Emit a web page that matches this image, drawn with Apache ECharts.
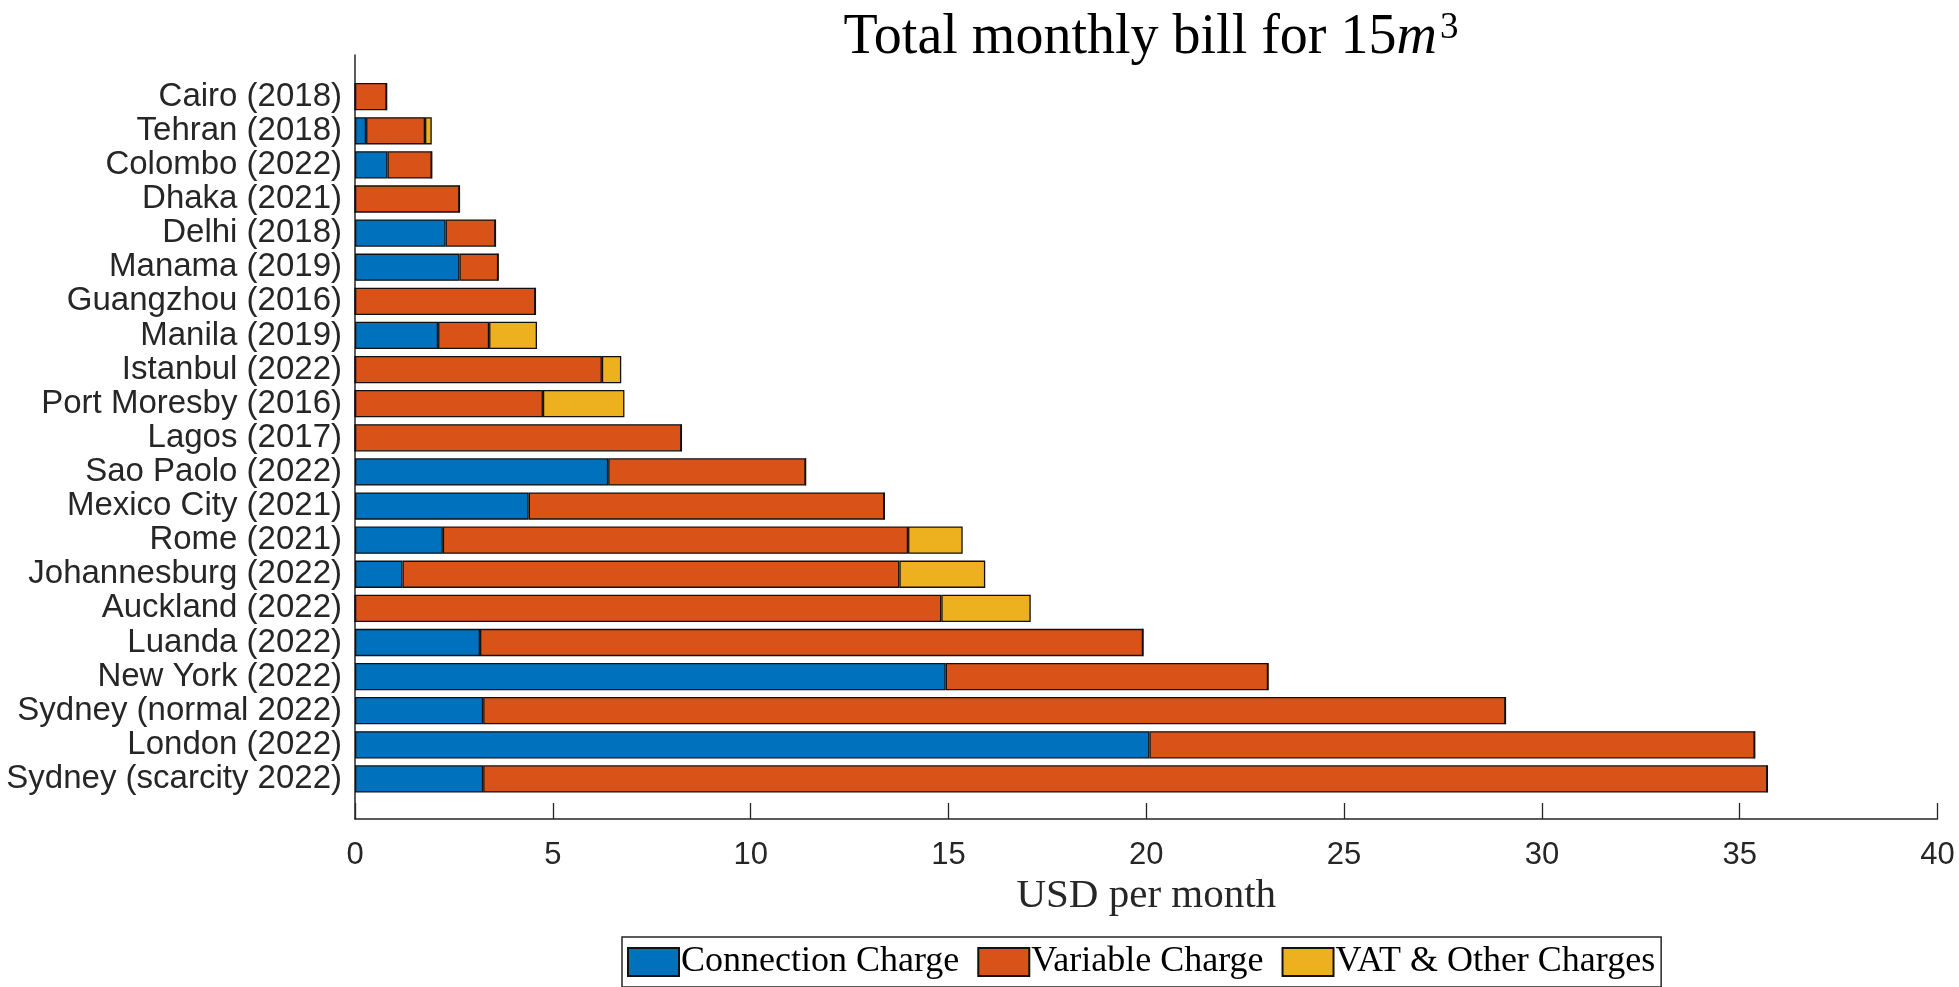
<!DOCTYPE html>
<html>
<head>
<meta charset="utf-8">
<script src="https://cdn.jsdelivr.net/npm/echarts@6/dist/echarts.min.js"></script>
<style>
html,body{margin:0;padding:0;background:#fff;}
#chart{width:1959px;height:987px;}
</style>
</head>
<body>
<div id="chart"></div>
<script>
const cities = ['Cairo (2018)','Tehran (2018)','Colombo (2022)','Dhaka (2021)','Delhi (2018)','Manama (2019)','Guangzhou (2016)','Manila (2019)','Istanbul (2022)','Port Moresby (2016)','Lagos (2017)','Sao Paolo (2022)','Mexico City (2021)','Rome (2021)','Johannesburg (2022)','Auckland (2022)','Luanda (2022)','New York (2022)','Sydney (normal 2022)','London (2022)','Sydney (scarcity 2022)'];
const connectionCharge = [0, 0.28, 0.82, 0, 2.29, 2.64, 0, 2.10, 0, 0, 0, 6.40, 4.39, 2.22, 1.20, 0, 3.16, 14.93, 3.24, 20.08, 3.24];
const variableCharge  = [0.80, 1.49, 1.12, 2.64, 1.26, 0.98, 4.56, 1.29, 6.24, 4.75, 8.25, 4.99, 8.99, 11.76, 12.56, 14.82, 16.76, 8.15, 25.84, 15.30, 32.46];
const vatOther        = [0, 0.17, 0, 0, 0, 0, 0, 1.21, 0.49, 2.06, 0, 0, 0, 1.38, 2.17, 2.26, 0, 0, 0, 0, 0];
const xTicks = [0, 5, 10, 15, 20, 25, 30, 35, 40];
const seriesNames = ['Connection Charge', 'Variable Charge', 'VAT & Other Charges'];
const seriesColors = ['#0072BD', '#D95319', '#EDB120'];

const axisColor = '#262626';
const chart = echarts.init(document.getElementById('chart'));
const barSeries = [connectionCharge, variableCharge, vatOther].map((d, i) => ({
  name: seriesNames[i],
  type: 'bar',
  stack: 'total',
  xAxisIndex: 1,
  yAxisIndex: 1,
  barCategoryGap: '20%',
  itemStyle: { color: seriesColors[i], borderColor: '#111', borderWidth: 1.3 },
  emphasis: { disabled: true },
  data: d
}));

chart.setOption({
  animation: false,
  title: {
    text: '{a|Total monthly bill for 15}{i|m}{s|3}',
    left: 1146,
    textAlign: 'center',
    top: 5,
    textStyle: {
      fontWeight: 'normal',
      rich: {
        a: { fontFamily: 'Liberation Serif', fontSize: 56, fontWeight: 'normal', color: '#000' },
        i: { fontFamily: 'Liberation Serif', fontSize: 56, fontWeight: 'normal', fontStyle: 'italic', color: '#000' },
        s: { fontFamily: 'Liberation Serif', fontSize: 37, fontWeight: 'normal', color: '#000', verticalAlign: 'top', padding: [0, 0, 20, 3] }
      }
    }
  },
  legend: {
    left: 622,
    top: 937,
    orient: 'horizontal',
    padding: [7, 6, 7, 5],
    itemWidth: 51,
    itemHeight: 28,
    itemGap: 18,
    borderColor: axisColor,
    borderWidth: 1.5,
    icon: 'rect',
    selectedMode: false,
    textStyle: { fontFamily: 'Liberation Serif', fontSize: 36, color: '#000', padding: [0, 0, 0, -3] },
    data: seriesNames
  },
  grid: [
    { left: 355, right: 21.5, top: 55, bottom: 168, containLabel: false },
    { left: 355, right: 21.5, top: 79.6, bottom: 191, containLabel: false }
  ],
  xAxis: [
    {
      gridIndex: 0, type: 'value', min: xTicks[0], max: xTicks[xTicks.length - 1], interval: xTicks[1] - xTicks[0],
      axisLine: { show: true, lineStyle: { color: axisColor, width: 1.5 } },
      axisTick: { show: true, inside: true, length: 16, lineStyle: { color: axisColor, width: 1.3 } },
      splitLine: { show: false },
      axisLabel: { fontFamily: 'Liberation Sans', fontSize: 31, color: axisColor, margin: 21 },
      name: 'USD per month',
      nameLocation: 'middle',
      nameGap: 55,
      nameTextStyle: { fontFamily: 'Liberation Serif', fontSize: 41, color: axisColor }
    },
    {
      gridIndex: 1, type: 'value', min: xTicks[0], max: xTicks[xTicks.length - 1], show: false
    }
  ],
  yAxis: [
    {
      gridIndex: 0, type: 'value', min: 0, max: 1,
      axisLine: { show: true, lineStyle: { color: axisColor, width: 1.5 } },
      axisTick: { show: false }, axisLabel: { show: false }, splitLine: { show: false }
    },
    {
      gridIndex: 1, type: 'category', inverse: true, data: cities,
      axisLine: { show: false }, axisTick: { show: false }, splitLine: { show: false },
      axisLabel: { interval: 0, fontFamily: 'Liberation Sans', fontSize: 33, color: axisColor, margin: 13 }
    }
  ],
  series: barSeries
});
</script>
</body>
</html>
